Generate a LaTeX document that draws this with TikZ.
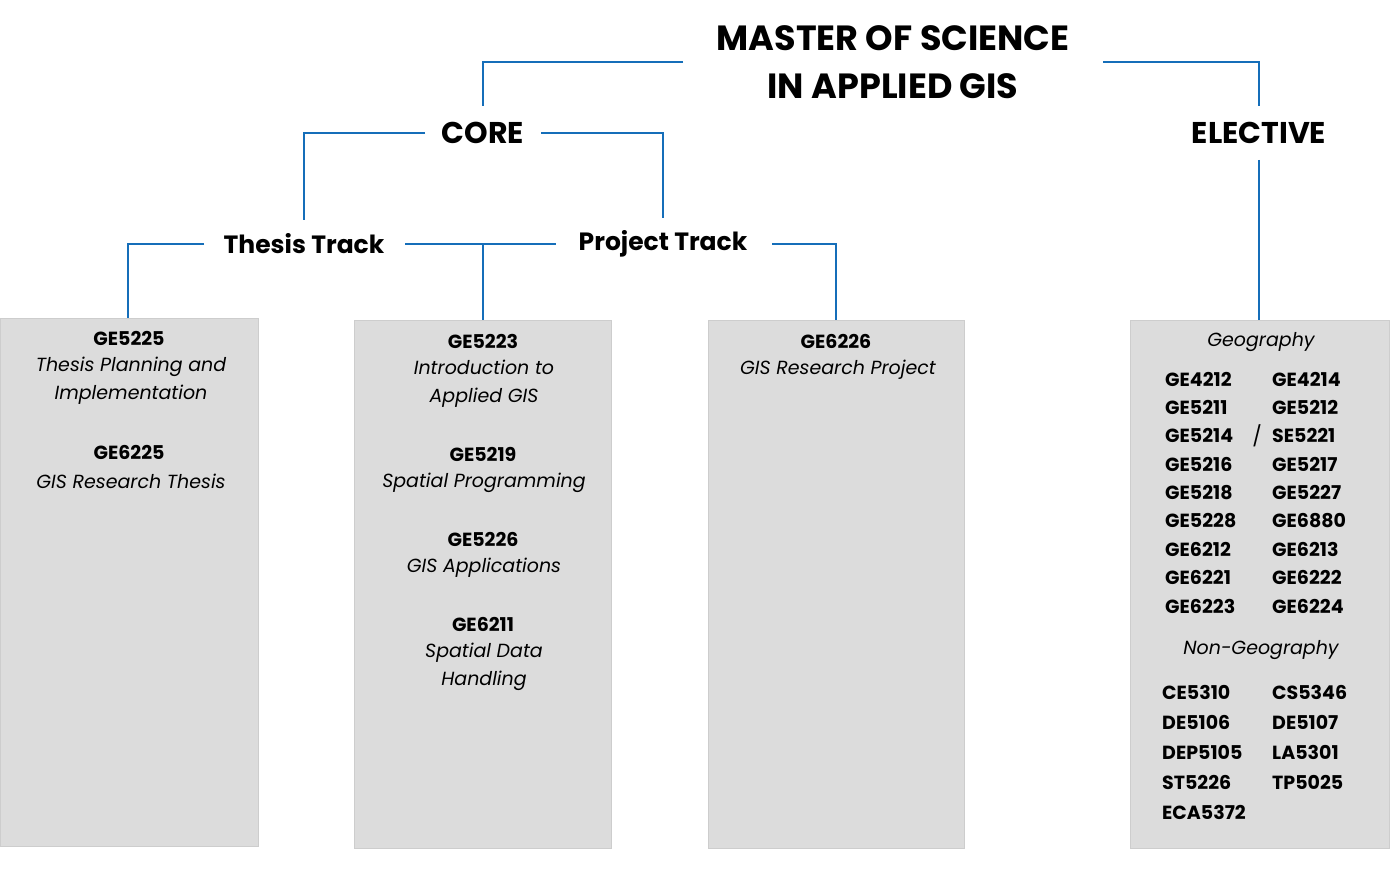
\documentclass[tikz,border=0pt]{standalone}
\usepackage{fontspec}
\setmainfont{Poppins}
\begin{document}
\begin{tikzpicture}[x=1pt,y=-1pt,
 ln/.style={draw={rgb,255:red,21;green,110;blue,185},line width=2.6pt},
 box/.style={fill={rgb,255:red,220;green,220;blue,220},draw={rgb,255:red,205;green,205;blue,205},line width=0.8pt},
 hd/.style={font=\fontsize{30}{34}\selectfont\bfseries,inner sep=0pt},
 tr/.style={font=\fontsize{25}{30}\selectfont\bfseries,inner sep=0pt},
 cd/.style={font=\fontsize{19}{23}\selectfont\bfseries,inner sep=0pt},
 it/.style={font=\fontsize{19}{28}\selectfont\itshape,inner sep=0pt,align=center},
 ec/.style={font=\fontsize{19}{23}\selectfont\bfseries,inner sep=0pt,anchor=west}]
\useasboundingbox (0,0) rectangle (1397,882);
\fill[white] (0,0) rectangle (1397,882);
\path[box] (0,318) rectangle (258,846);
\path[box] (354,320) rectangle (611,848);
\path[box] (708,320) rectangle (964,848);
\path[box] (1130,320) rectangle (1389,848);
\node[hd,align=center,font=\fontsize{35}{48}\selectfont\bfseries] (title) at (893,62) {MASTER OF SCIENCE\\IN APPLIED GIS};
\node[hd] (core) at (483,133) {CORE};
\node[hd] (elec) at (1259,133) {ELECTIVE};
\node[tr] (thesis) at (304,244) {Thesis Track};
\node[tr] (proj) at (663,244) {Project Track};
\coordinate (tl) at (683,62); \coordinate (tr) at (1103,62);
\draw[ln] (tl) -- (483,62) -- (483,106);
\draw[ln] (tr) -- (1259,62) -- (1259,106);
\draw[ln] (425,133) -- (304,133) -- (304,220);
\draw[ln] (541,133) -- (663,133) -- (663,218);
\draw[ln] (1259,160) -- (1259,320);
\draw[ln] (204,244) -- (128,244) -- (128,318);
\draw[ln] (405,244) -- (556,244);
\draw[ln] (483,244) -- (483,320);
\draw[ln] (772,244) -- (836,244) -- (836,320);
% thesis box
\node[cd] (a1) at (129,338) {GE5225};
\node[it] (a2) at (131,381) {Thesis Planning and\\Implementation};
\node[cd] (a3) at (129,452) {GE6225};
\node[it] (a4) at (131,481) {GIS Research Thesis};
% core box
\node[cd] (b1) at (483,341) {GE5223};
\node[it] (b2) at (484,384) {Introduction to\\Applied GIS};
\node[cd] (b3) at (483,454) {GE5219};
\node[it] (b4) at (484,483) {Spatial Programming};
\node[cd] (b5) at (483,539) {GE5226};
\node[it] (b6) at (484,568) {GIS Applications};
\node[cd] (b7) at (483,624) {GE6211};
\node[it] (b8) at (484,667) {Spatial Data\\Handling};
% project box
\node[cd] (c1) at (836,341) {GE6226};
\node[it] (c2) at (838,370) {GIS Research Project};
% elective
\node[it] (g) at (1261,342) {Geography};
\foreach \l/\r [count=\i from 0] in {GE4212/GE4214,GE5211/GE5212,GE5214/SE5221,GE5216/GE5217,GE5218/GE5227,GE5228/GE6880,GE6212/GE6213,GE6221/GE6222,GE6223/GE6224}{
 \node[ec] (l\i) at (1165,379+28.4*\i) {\l};
 \node[ec] (r\i) at (1272,379+28.4*\i) {\r};
}
\node[font=\fontsize{20}{24}\selectfont,inner sep=0pt] (sl) at (1257,435.8) {/};
\node[it] (ng) at (1261,650) {Non-Geography};
\foreach \l/\r [count=\i from 0] in {CE5310/CS5346,DE5106/DE5107,DEP5105/LA5301,ST5226/TP5025}{
 \node[ec] (nl\i) at (1162,692+30*\i) {\l};
 \node[ec] (nr\i) at (1272,692+30*\i) {\r};
}
\node[ec] (nl4) at (1162,812) {ECA5372};
\end{tikzpicture}
\end{document}
